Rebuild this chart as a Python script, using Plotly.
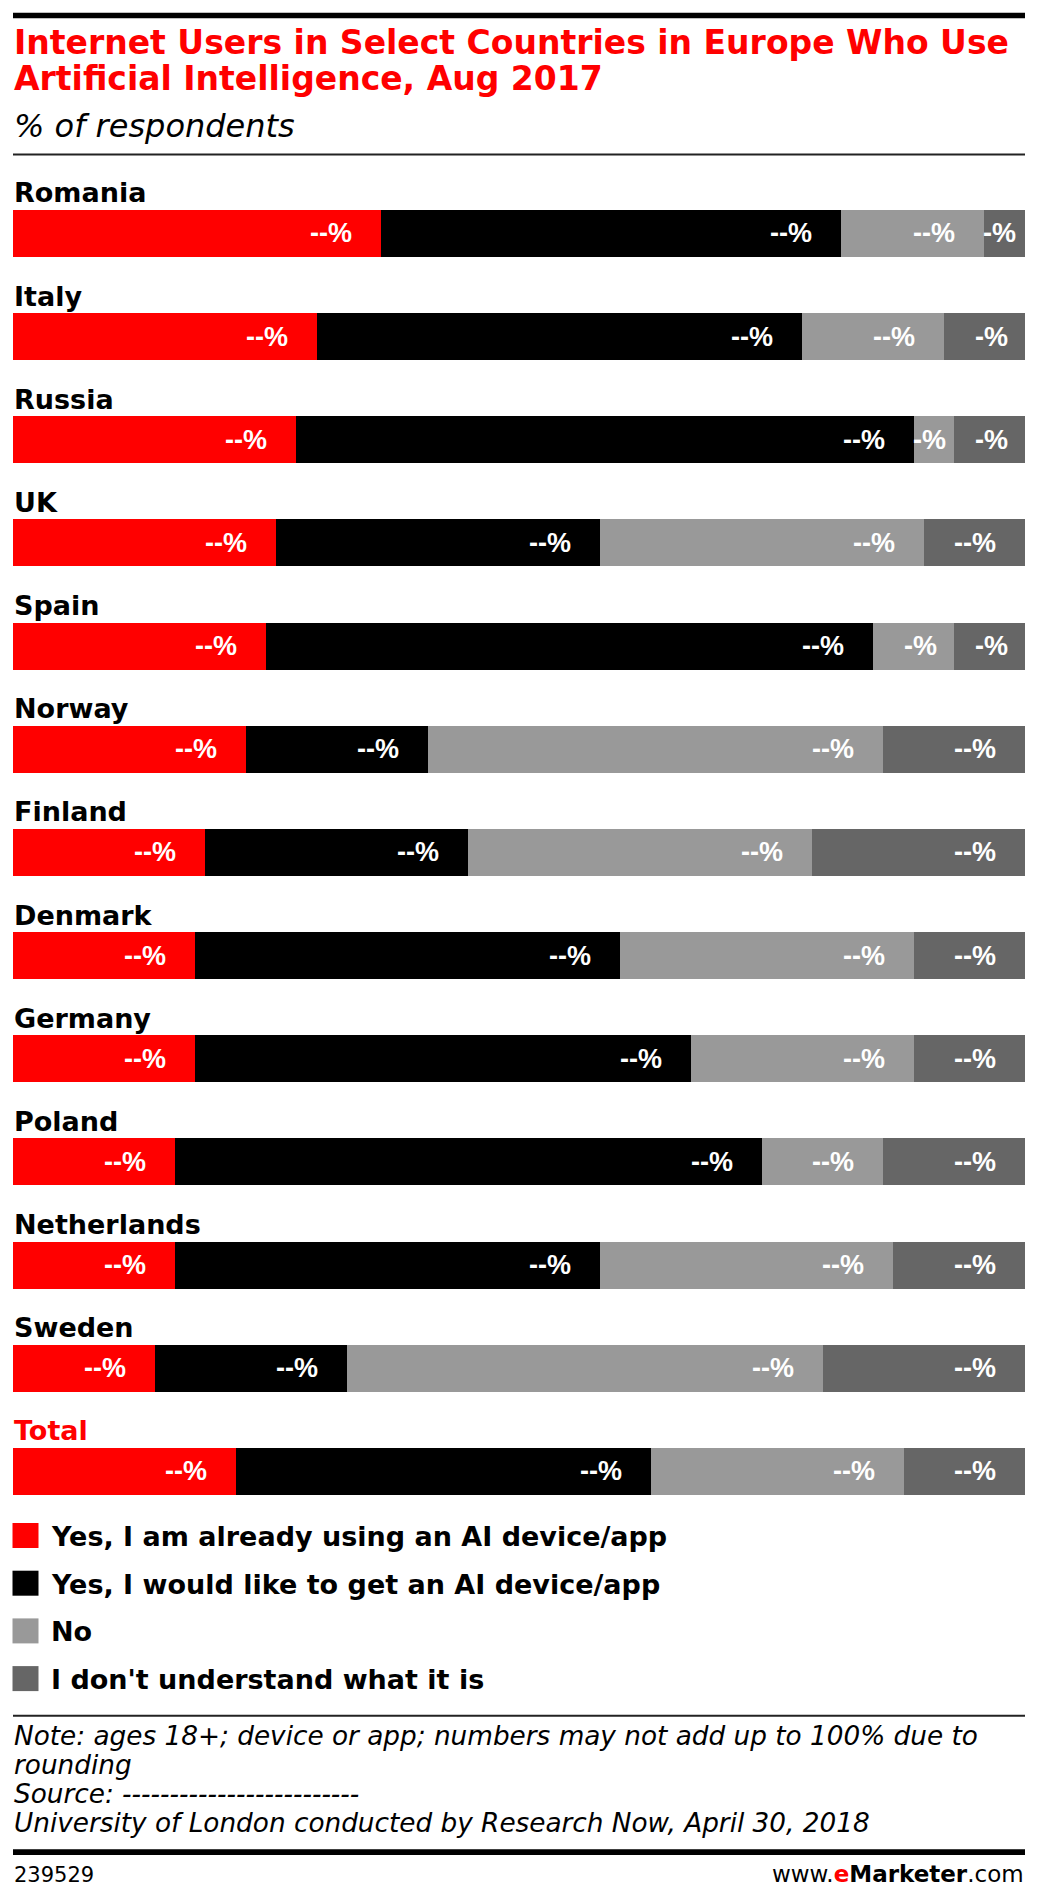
import plotly.graph_objects as go

W, H = 1038, 1901

# ---------------- data ----------------
countries = ["Romania", "Italy", "Russia", "UK", "Spain", "Norway", "Finland",
             "Denmark", "Germany", "Poland", "Netherlands", "Sweden", "Total"]
already_using = [36, 30, 28, 26, 25, 23, 19, 18, 18, 16, 16, 14, 22]
would_like = [45, 48, 61, 32, 60, 18, 26, 42, 49, 58, 42, 19, 41]
no_answer = [14, 14, 4, 32, 8, 45, 34, 29, 22, 12, 29, 47, 25]
dont_understand = [4, 8, 7, 10, 7, 14, 21, 11, 11, 14, 13, 20, 12]

series_names = ["Yes, I am already using an AI device/app",
                "Yes, I would like to get an AI device/app",
                "No",
                "I don't understand what it is"]
series_values = [already_using, would_like, no_answer, dont_understand]
series_colors = ["#FF0000", "#000000", "#999999", "#666666"]

title_lines = ["Internet Users in Select Countries in Europe Who Use",
               "Artificial Intelligence, Aug 2017"]
subtitle = "% of respondents"
note_lines = ["Note: ages 18+; device or app; numbers may not add up to 100% due to",
              "rounding",
              "Source: -------------------------",
              "University of London conducted by Research Now, April 30, 2018"]
chart_id = "239529"

# ---------------- styling ----------------
FONT = "DejaVu Sans"
LABEL_FONT = "Liberation Sans Narrow, Arial Narrow, Liberation Sans, Arial, sans-serif"
X0, X1 = 13, 1025            # plot left/right in px
ROW0, ROWN = 233.5, 1471.5   # first/last bar centre in px
pitch = (ROWN - ROW0) / (len(countries) - 1)
bar_h = 47
px_per_unit = (X1 - X0) / 100.0

fig = go.Figure()
for name, vals, col in zip(series_names, series_values, series_colors):
    fig.add_trace(go.Bar(
        y=countries, x=vals, orientation="h", name=name,
        marker=dict(color=col, line=dict(width=0)),
        showlegend=False, hoverinfo="skip"))

ytop = ROW0 - pitch / 2
ybot = ROWN + pitch / 2
fig.update_layout(
    width=W, height=H,
    margin=dict(l=0, r=0, t=0, b=0),
    paper_bgcolor="white", plot_bgcolor="white",
    barmode="stack", barnorm="percent",
    bargap=1 - bar_h / pitch,
    xaxis=dict(domain=[X0 / W, X1 / W], range=[0, 100], visible=False, fixedrange=True),
    yaxis=dict(domain=[1 - ybot / H, 1 - ytop / H], range=[len(countries) - 0.5, -0.5],
               visible=False, fixedrange=True),
)

annotations = []
shapes = []

DESC = 0.236  # DejaVu descent


def text_at(text, x_px, baseline_px, size, color="black", weight="normal",
            style="normal", xanchor="left", family=FONT):
    y_bottom = baseline_px + DESC * size + 1
    xx = x_px - 1 if xanchor == "left" else x_px + 1
    annotations.append(dict(
        text=text, xref="paper", yref="paper", x=xx / W, y=1 - y_bottom / H,
        xanchor=xanchor, yanchor="bottom", showarrow=False, align=xanchor,
        font=dict(family=family, size=size, color=color, weight=weight, style=style)))


def hbar(y0, y1, color):
    shapes.append(dict(type="rect", xref="paper", yref="paper",
                       x0=X0 / W, x1=X1 / W, y0=1 - y1 / H, y1=1 - y0 / H,
                       fillcolor=color, line=dict(width=0), layer="above"))


# header
hbar(12.7, 18.3, "#000000")
text_at(title_lines[0], X0, 55, 33, color="#FF0000", weight="bold")
text_at(title_lines[1], X0, 91.5, 33, color="#FF0000", weight="bold")
text_at(subtitle, X0, 138, 32, style="italic")
hbar(153.5, 155.5, "#222222")

# country labels and segment labels
for i, c in enumerate(countries):
    annotations.append(dict(
        text=c, xref="paper", yref="y", x=(X0 - 1) / W, y=c,
        xanchor="left", yanchor="bottom", yshift=bar_h / 2 - 0.5, showarrow=False,
        font=dict(family=FONT, size=27, weight="bold",
                  color="#FF0000" if c == "Total" else "#000000")))
    total = sum(v[i] for v in series_values)
    cum = 0.0
    for vals in series_values:
        start = cum
        cum += vals[i] / total * 100.0
        w_px = (cum - start) * px_per_unit
        if vals[i] >= 10:
            label, gap = "--%", min(28, w_px - 42)
        else:
            label, gap = "-%", min(16, w_px - 33)
        annotations.append(dict(
            text=label, xref="x", yref="y", x=cum, y=c,
            xanchor="right", yanchor="middle", xshift=-gap + 1, showarrow=False,
            font=dict(family=LABEL_FONT, size=27, weight="bold", color="white")))

# legend
LEG0, LEGP = 1523, 47.7
for k, (name, col) in enumerate(zip(series_names, series_colors)):
    top = LEG0 + k * LEGP
    shapes.append(dict(type="rect", xref="paper", yref="paper",
                       x0=12.5 / W, x1=38.5 / W, y0=1 - (top + 25) / H, y1=1 - top / H,
                       fillcolor=col, line=dict(width=0)))
    text_at(name, 49.5, top + 23.7, 27, weight="bold")

hbar(1714.7, 1716.7, "#222222")

# notes
for line, base in zip(note_lines, [1745.5, 1775, 1804, 1833]):
    text_at(line, X0, base, 26.3, style="italic")

hbar(1849.3, 1855, "#000000")

# footer
text_at(chart_id, X0, 1883, 21)
text_at("www.<span style='color:#FF0000'><b>e</b></span><b>Marketer</b>.com",
        X1, 1883, 23, xanchor="right")

fig.update_layout(annotations=annotations, shapes=shapes)
fig.write_html("out.html")
